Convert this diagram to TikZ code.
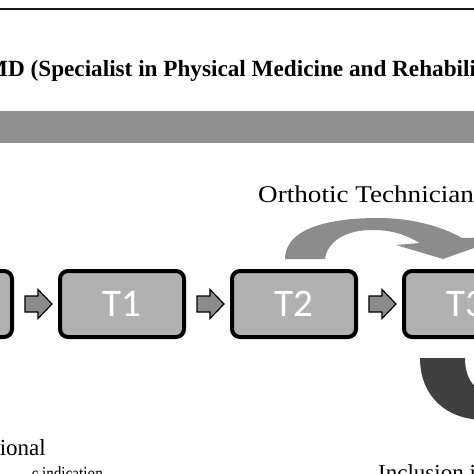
\documentclass[tikz,border=0pt]{standalone}
\usepackage{fontspec}
\setmainfont{Liberation Serif}
\newfontfamily\boxfont{Carlito}
\usepackage{tikz}
\usetikzlibrary{positioning,calc}
\definecolor{boxgray}{HTML}{B1B1B1}
\definecolor{bargray}{HTML}{8F8F8F}
\definecolor{arrgray}{HTML}{8C8C8C}
\definecolor{darkarr}{HTML}{404040}

\begin{document}
\begin{tikzpicture}[x=1pt,y=-1pt,
    tbox/.style={draw=black,line width=4pt,fill=boxgray,rounded corners=8pt,
        minimum width=124pt,minimum height=66pt,inner sep=0pt,outer sep=0pt,
        text=white,font=\boxfont\fontsize{39}{39}\selectfont},
    blockarr/.style={draw=black,line width=1.2pt,fill=arrgray,line join=miter}]
    \useasboundingbox (0,0) rectangle (474,474);
    \clip (0,0) rectangle (474,474);

    % header
    \draw[line width=1.5pt,black!90] (0,9) -- (474,9);
    \node[anchor=base west,inner sep=0pt,font=\bfseries\fontsize{23.2}{27}\selectfont] (title) at (-14,76)
        {MD (Specialist in Physical Medicine and Rehabili};
    \fill[bargray] (0,111) rectangle (474,143);

    % steps
    \node[tbox] (t0) at (-50,304) {};
    \node[tbox, right=48pt of t0] (t1) {T1};
    \node[tbox, right=48pt of t1] (t2) {T2};
    \node[tbox, right=48pt of t2] (t3) {T3};

    \foreach \a/\b in {t0/t1, t1/t2, t2/t3} {
        \draw[blockarr] ($(\a.east)+(13,-8)$) -- ++(13,0) -- ++(0,-6.5) -- ++(14,14.5)
            -- ++(-14,14.5) -- ++(0,-6.5) -- ++(-13,0) -- cycle;
    }

    % orthotic technician loop
    \node[anchor=base west,inner sep=0pt,xscale=1.13,font=\fontsize{24}{28}\selectfont] (tech) at (258,202)
        {Orthotic Technician};
    \fill[arrgray] (285,259) .. controls (285,228) and (330,218) .. (378,218)
        .. controls (415,218) and (445,228) .. (462,238)
        -- (505,237) -- (443,259) -- (396,245) -- (420,243)
        .. controls (402,233) and (390,230) .. (372,230)
        .. controls (345,230) and (327,242) .. (325,259) -- cycle;

    % loop below T3
    \fill[darkarr] (420,358) .. controls (420,395) and (445,420) .. (485,420)
        -- (485,390) .. controls (472,390) and (465,375) .. (465,358) -- cycle;

    % bottom labels
    \node[anchor=base east,inner sep=0pt,font=\fontsize{23}{27}\selectfont] (func) at (46,455) {ional};
    \node[anchor=base east,inner sep=0pt,xscale=0.76,font=\fontsize{20}{24}\selectfont] (indic) at (103,480) {c indication};
    \node[anchor=base west,inner sep=0pt,font=\fontsize{23}{27}\selectfont] (incl) at (378,480) {Inclusion i};
\end{tikzpicture}
\end{document}
